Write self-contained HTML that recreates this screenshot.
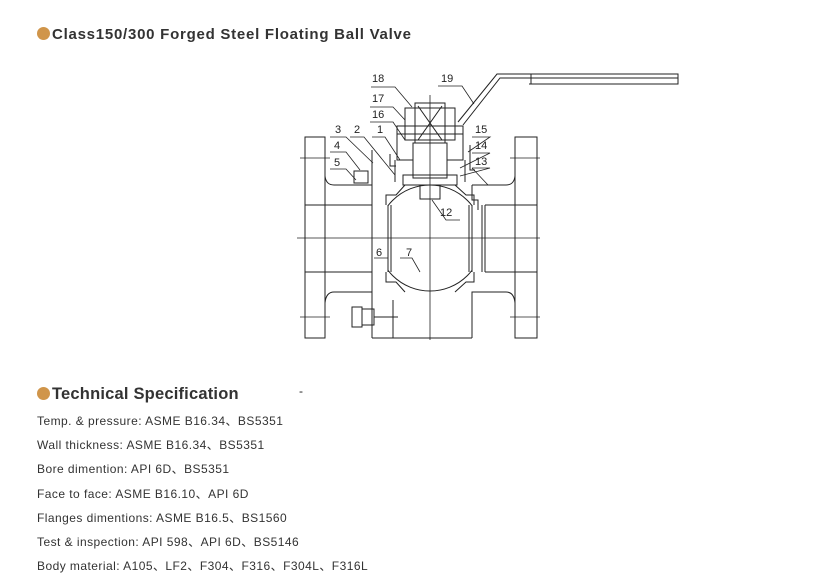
<!DOCTYPE html>
<html><head><meta charset="utf-8"><style>
html,body{margin:0;padding:0;background:#fff;width:839px;height:587px;overflow:hidden}
.t{position:absolute;font-family:"Liberation Sans","Noto Sans CJK SC",sans-serif;color:#222;white-space:nowrap}
.dot{display:inline-block;width:13px;height:13px;border-radius:50%;background:#d0954a;vertical-align:-1px;margin-right:2px}
.s{font-size:12px;left:37px;color:#333;letter-spacing:0.45px}
</style></head><body>
<div class="t" style="left:37px;top:26px;font-size:15px;letter-spacing:0.75px;font-weight:bold;color:#333"><span class="dot"></span>Class150/300 Forged Steel Floating Ball Valve</div>
<div class="t" style="left:37px;top:385px;font-size:16.5px;letter-spacing:0.2px;font-weight:bold;color:#333"><span class="dot"></span>Technical Specification</div>
<div class="t" style="left:299px;top:384px;font-size:12px">-</div>
<div class="t s" style="top:412px">Temp. &amp; pressure: ASME B16.34、BS5351</div>
<div class="t s" style="top:436px">Wall thickness: ASME B16.34、BS5351</div>
<div class="t s" style="top:460px">Bore dimention: API 6D、BS5351</div>
<div class="t s" style="top:485px">Face to face: ASME B16.10、API 6D</div>
<div class="t s" style="top:509px">Flanges dimentions: ASME B16.5、BS1560</div>
<div class="t s" style="top:533px">Test &amp; inspection: API 598、API 6D、BS5146</div>
<div class="t s" style="top:557px">Body material: A105、LF2、F304、F316、F304L、F316L</div>
<svg width="839" height="587" style="position:absolute;left:0;top:0" fill="none" stroke="#222" stroke-width="1">
<defs><clipPath id="bc"><rect x="388" y="150" width="84" height="180"/></clipPath></defs>
<path d="M325,137 H305 V338 H325 Z"/>
<path d="M515,137 H537 V338 H515 Z"/>
<path d="M325,140 V176 Q326,185 334,185 H372"/>
<path d="M325,338 V303 Q326,292 334,292 H372"/>
<path d="M372,150 V338 M372,338 H472"/>
<path d="M515,140 V176 Q514,185 506,185 H472"/>
<path d="M515,338 V303 Q514,292 506,292 H472 V338"/>
<path d="M472,185 V200 L478,200 V210 M482,205 V272"/>
<path d="M305,205 H372 M305,272 H372 M485,205 H537 M485,272 H537"/>
<path d="M372,205 V272 M485,205 V272"/>
<path d="M297,238 H540 M430,95 V340" stroke-width="0.8"/>
<path d="M300,158 H330 M300,317 H330 M510,158 H540 M510,317 H540" stroke-width="0.8"/>
<g clip-path="url(#bc)"><circle cx="430" cy="238" r="53"/></g>
<path d="M388,205 V272 M391,205 V272 M469,205 V272 M472,205 V272"/>
<path d="M386,205 V195 H396 L405,185 M474,205 V195 H466 L455,185"/>
<path d="M386,272 V282 H396 L405,292 M474,272 V282 H466 L455,292"/>
<rect x="415" y="103" width="30" height="40"/>
<path d="M418,106 L442,140 M442,106 L418,140"/>
<rect x="405" y="108" width="50" height="32"/>
<rect x="397" y="126" width="66" height="8"/>
<rect x="413" y="143" width="34" height="35"/>
<rect x="403" y="175" width="54" height="10"/>
<rect x="420" y="185" width="20" height="14"/>
<path d="M397,134 V160 H413 M463,134 V160 H447 M395,160 V182 M465,160 V182"/>
<path d="M390,154 V166 H396 M470,145 V170 H475"/>
<path d="M458,122 L497,74 H678 V84 H529 M463,125 L500,78 H678 M531,74 V84"/>
<rect x="352" y="307" width="10" height="20"/>
<rect x="362" y="309" width="12" height="16"/>
<path d="M374,317 H398 M393,300 V338"/>
<rect x="354" y="171" width="14" height="12"/>
<g stroke-width="0.8">
<path d="M371,87 H395 L412,107 M438,86 H462 L474,104"/>
<path d="M370,107 H393 L405,120 M370,122 H393 L405,140"/>
<path d="M330,137 H346 L373,163 M350,137 H364 L395,175 M372,137 H385 L400,160"/>
<path d="M330,152 H346 L360,170 M330,169 H346 L356,180"/>
<path d="M472,137 H490 L468,152 M472,153 H490 L460,168 M472,168 H490 L460,176 M472,168 L488,185"/>
<path d="M432,200 L446,220 H460"/>
<path d="M374,258 H388 M400,258 H412 L420,272"/>
</g>
</svg>
<div class="t" style="font-size:11px;left:372px;top:73px">18</div>
<div class="t" style="font-size:11px;left:441px;top:73px">19</div>
<div class="t" style="font-size:11px;left:372px;top:93px">17</div>
<div class="t" style="font-size:11px;left:372px;top:109px">16</div>
<div class="t" style="font-size:11px;left:335px;top:124px">3</div>
<div class="t" style="font-size:11px;left:354px;top:124px">2</div>
<div class="t" style="font-size:11px;left:377px;top:124px">1</div>
<div class="t" style="font-size:11px;left:334px;top:140px">4</div>
<div class="t" style="font-size:11px;left:334px;top:157px">5</div>
<div class="t" style="font-size:11px;left:475px;top:124px">15</div>
<div class="t" style="font-size:11px;left:475px;top:140px">14</div>
<div class="t" style="font-size:11px;left:475px;top:156px">13</div>
<div class="t" style="font-size:11px;left:440px;top:207px">12</div>
<div class="t" style="font-size:11px;left:376px;top:247px">6</div>
<div class="t" style="font-size:11px;left:406px;top:247px">7</div>
</body></html>
